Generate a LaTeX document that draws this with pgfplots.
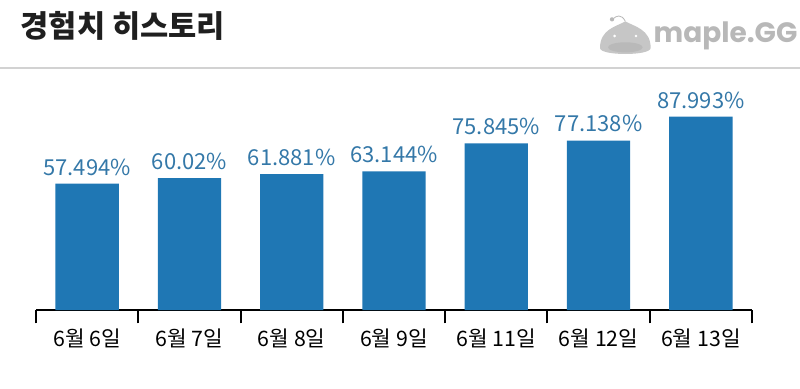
\documentclass[border=0pt]{standalone}
\usepackage{pgfplots}
\pgfplotsset{compat=1.18}
\usepackage{pgfplotstable}
\usepackage{fontspec}
\setmainfont{Noto Sans CJK KR}
\newfontfamily\logofont{Poppins}
\definecolor{barblue}{HTML}{1F77B4}
\definecolor{lblblue}{HTML}{3478A8}
\definecolor{logogray}{HTML}{B8B8B8}
\pgfplotstableread{
x y lbl
0 57.494 57.494
1 60.02 60.02
2 61.881 61.881
3 63.144 63.144
4 75.845 75.845
5 77.138 77.138
6 87.993 87.993
}\exptable
\begin{document}
\begin{tikzpicture}
\path[use as bounding box] (0,0) rectangle (600pt,-291.75pt);
% title
\node[anchor=west, inner sep=0pt, font=\bfseries\fontsize{23pt}{26pt}\selectfont, text=black!88] at (15.3pt,-19.5pt) {경험치 히스토리};
% separator
\draw[gray!35, line width=1.1pt] (0,-51pt) -- (600pt,-51pt);
% logo
\fill[logogray!80] (450pt,-36pt) .. controls (450pt,-22pt) and (462pt,-20pt) .. (469pt,-16pt) .. controls (476pt,-20pt) and (488pt,-22pt) .. (488pt,-36pt) .. controls (488pt,-42pt) and (450pt,-42pt) .. (450pt,-36pt) -- cycle;
\fill[gray!55] (469pt,-35.5pt) ellipse (13pt and 3.8pt);
\fill[white] (461pt,-27pt) circle (1.1pt) (477pt,-27pt) circle (1.1pt);
\draw[logogray, line width=0.6pt] (469pt,-16pt) .. controls (466pt,-10pt) and (462pt,-12pt) .. (460pt,-14pt);
\fill[logogray] (459pt,-14.5pt) circle (1.6pt);
\node[anchor=west, inner sep=0pt, font=\logofont\bfseries\fontsize{21pt}{24pt}\selectfont, text=logogray] at (490pt,-27pt) {maple.GG};
\begin{axis}[
  at={(27pt,-232.5pt)}, anchor=south west,
  scale only axis, width=537pt, height=172.5pt,
  xmin=-0.5, xmax=6.5, ymin=0, ymax=104.7,
  hide y axis,
  axis x line*=bottom,
  x axis line style={line width=1.5pt, -},
  xtick={0,...,6},
  xticklabels={6월 6일,6월 7일,6월 8일,6월 9일,6월 11일,6월 12일,6월 13일},
  major tick length=0pt,
  minor xtick={-0.5,0.5,...,6.5},
  minor tick length=10pt,
  xtick align=outside,
  minor tick style={line width=1.5pt, black},
  xticklabel style={font=\fontsize{16pt}{18pt}\selectfont, text=black, yshift=-10.5pt},
  clip=false,
  point meta=explicit symbolic,
  nodes near coords={\pgfplotspointmeta\%},
  every node near coord/.append style={anchor=south, inner sep=0pt, yshift=6pt, text=lblblue, font=\fontsize{16.5pt}{19pt}\selectfont},
]
\addplot[ybar, bar width=47.5pt, fill=barblue, draw=none] table[x=x, y=y, meta=lbl] {\exptable};
\end{axis}
\end{tikzpicture}
\end{document}
